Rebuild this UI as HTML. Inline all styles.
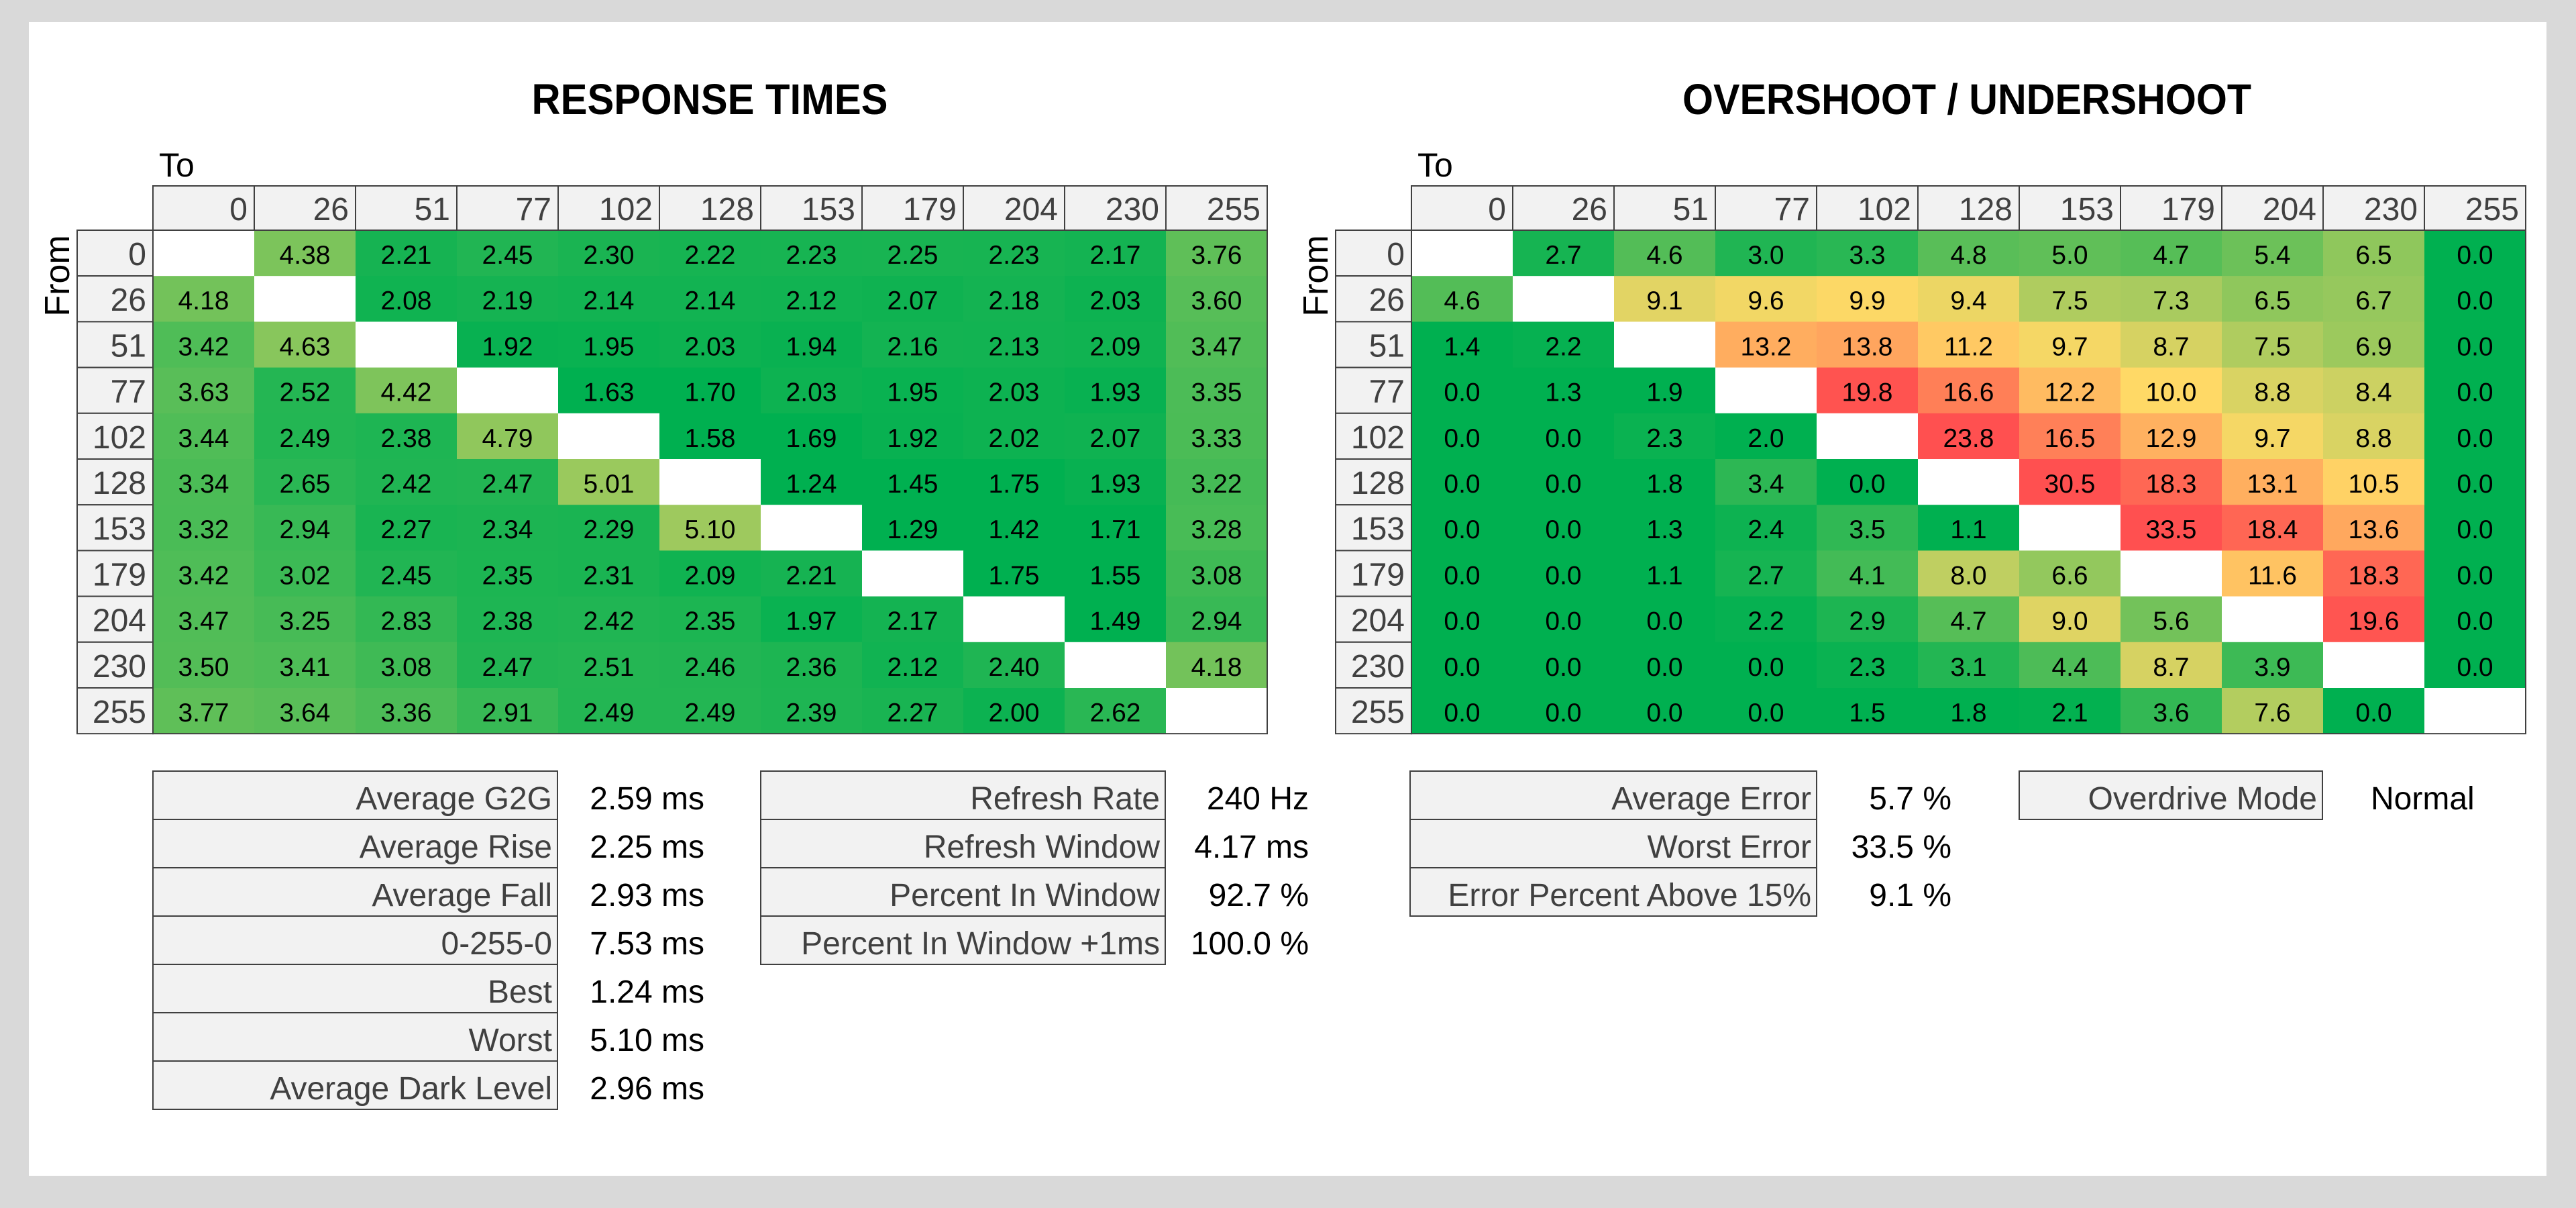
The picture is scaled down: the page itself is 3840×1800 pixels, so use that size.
<!DOCTYPE html>
<html><head><meta charset="utf-8"><style>
html,body{margin:0;padding:0;background:#d9d9d9;}
svg{display:block;font-family:"Liberation Sans",sans-serif;}
</style></head><body>
<svg id="chart" width="3840" height="1800" viewBox="0 0 3840 1800" xmlns="http://www.w3.org/2000/svg">
<rect x="0" y="0" width="3840" height="1800" fill="#d9d9d9"/>
<rect x="43" y="33" width="3753" height="1719" fill="#ffffff"/>
<text x="1058" y="170" text-anchor="middle" font-size="64" font-weight="bold" textLength="531" lengthAdjust="spacingAndGlyphs">RESPONSE TIMES</text>
<text x="2932" y="170" text-anchor="middle" font-size="64" font-weight="bold" textLength="848" lengthAdjust="spacingAndGlyphs">OVERSHOOT / UNDERSHOOT</text>
<g id="left"></g><g id="right"></g><g id="stats"></g>
</svg>
<script>
const levels = [0,26,51,77,102,128,153,179,204,230,255];
const rtRows = [
[null,4.38,2.21,2.45,2.30,2.22,2.23,2.25,2.23,2.17,3.76],
[4.18,null,2.08,2.19,2.14,2.14,2.12,2.07,2.18,2.03,3.60],
[3.42,4.63,null,1.92,1.95,2.03,1.94,2.16,2.13,2.09,3.47],
[3.63,2.52,4.42,null,1.63,1.70,2.03,1.95,2.03,1.93,3.35],
[3.44,2.49,2.38,4.79,null,1.58,1.69,1.92,2.02,2.07,3.33],
[3.34,2.65,2.42,2.47,5.01,null,1.24,1.45,1.75,1.93,3.22],
[3.32,2.94,2.27,2.34,2.29,5.10,null,1.29,1.42,1.71,3.28],
[3.42,3.02,2.45,2.35,2.31,2.09,2.21,null,1.75,1.55,3.08],
[3.47,3.25,2.83,2.38,2.42,2.35,1.97,2.17,null,1.49,2.94],
[3.50,3.41,3.08,2.47,2.51,2.46,2.36,2.12,2.40,null,4.18],
[3.77,3.64,3.36,2.91,2.49,2.49,2.39,2.27,2.00,2.62,null]];
const osRows = [
[null,2.7,4.6,3.0,3.3,4.8,5.0,4.7,5.4,6.5,0.0],
[4.6,null,9.1,9.6,9.9,9.4,7.5,7.3,6.5,6.7,0.0],
[1.4,2.2,null,13.2,13.8,11.2,9.7,8.7,7.5,6.9,0.0],
[0.0,1.3,1.9,null,19.8,16.6,12.2,10.0,8.8,8.4,0.0],
[0.0,0.0,2.3,2.0,null,23.8,16.5,12.9,9.7,8.8,0.0],
[0.0,0.0,1.8,3.4,0.0,null,30.5,18.3,13.1,10.5,0.0],
[0.0,0.0,1.3,2.4,3.5,1.1,null,33.5,18.4,13.6,0.0],
[0.0,0.0,1.1,2.7,4.1,8.0,6.6,null,11.6,18.3,0.0],
[0.0,0.0,0.0,2.2,2.9,4.7,9.0,5.6,null,19.6,0.0],
[0.0,0.0,0.0,0.0,2.3,3.1,4.4,8.7,3.9,null,0.0],
[0.0,0.0,0.0,0.0,1.5,1.8,2.1,3.6,7.6,0.0,null]];
const rtLabels = ["Average G2G","Average Rise","Average Fall","0-255-0","Best","Worst","Average Dark Level"];
const rtValues = ["2.59 ms","2.25 ms","2.93 ms","7.53 ms","1.24 ms","5.10 ms","2.96 ms"];
const rrLabels = ["Refresh Rate","Refresh Window","Percent In Window","Percent In Window +1ms"];
const rrValues = ["240 Hz","4.17 ms","92.7 %","100.0 %"];
const errLabels = ["Average Error","Worst Error","Error Percent Above 15%"];
const errValues = ["5.7 %","33.5 %","9.1 %"];
const odLabels = ["Overdrive Mode"];
const odValues = ["Normal"];

const NS="http://www.w3.org/2000/svg";
function mk(parent,tag,attrs,txt){const e=document.createElementNS(NS,tag);for(const k in attrs)e.setAttribute(k,attrs[k]);if(txt!==undefined)e.textContent=txt;parent.appendChild(e);return e;}
const G=[0,176,80],Y=[255,217,102],R=[255,80,80];
function lerp(a,b,t){return a.map((v,i)=>Math.round(v+(b[i]-v)*t));}
function rtColor(v){let t=Math.max(0,Math.min(1,(v-1.75)/5.4));return 'rgb('+lerp(G,Y,t).join(',')+')';}
function osColor(v){if(v<=10){let t=Math.max(0,(v-2)/8);return 'rgb('+lerp(G,Y,t).join(',')+')';}let t=Math.min(1,(v-10)/10);return 'rgb('+lerp(Y,R,t).join(',')+')';}

const COLW=151, HDR_TOP=277, HDR_H=66, ROW_H=68.2, LBL_W=113;
function grid(gid, x0, rows, colorFn, fmt, fromX, name){
  const g=document.getElementById(gid);
  const xs=i=>x0+i*COLW, ys=j=>HDR_TOP+HDR_H+j*ROW_H;
  const t=mk(g,'text',{x:x0+9,y:263,'font-size':50,fill:'#000'},'To');
  
  
  const f=mk(g,'text',{x:0,y:0,'font-size':52,fill:'#000',transform:'translate('+(fromX)+',411) rotate(-90)','text-anchor':'middle'},'From');
  
  
  levels.forEach((lv,i)=>{
    const r=mk(g,'rect',{x:xs(i),y:HDR_TOP,width:COLW,height:HDR_H,fill:'#f2f2f2',stroke:'#404040','stroke-width':2});
    
    
    const tx=mk(g,'text',{x:xs(i)+COLW-10,y:HDR_TOP+51,'font-size':48,fill:'#404040','text-anchor':'end'},String(lv));
    
    
    const rr=mk(g,'rect',{x:x0-LBL_W,y:ys(i),width:LBL_W,height:ROW_H,fill:'#f2f2f2',stroke:'#404040','stroke-width':2});
    
    
    const rt=mk(g,'text',{x:x0-10,y:ys(i)+52,'font-size':48,fill:'#404040','text-anchor':'end'},String(lv));
    
    
  });
  rows.forEach((row,j)=>row.forEach((v,i)=>{
    const c=mk(g,'rect',{x:xs(i),y:ys(j),width:COLW+0.5,height:ROW_H+0.5,fill:v===null?'#ffffff':colorFn(v)});
    
    
    if(v!==null){
      const ct=mk(g,'text',{x:xs(i)+COLW/2,y:ys(j)+50,'font-size':39,fill:'#000','text-anchor':'middle'},fmt(v));
      
      
    }
  }));
  const b=mk(g,'rect',{x:x0,y:HDR_TOP+HDR_H,width:COLW*11,height:ROW_H*11,fill:'none',stroke:'#404040','stroke-width':2});
  
  
}
grid('left',228,rtRows,rtColor,v=>v.toFixed(2),103,'response');
grid('right',2104,osRows,osColor,v=>v.toFixed(1),1979,'overshoot');

function stats(x0,w,valRight,valLeft,labels,values,name){
  const g=document.getElementById('stats');
  labels.forEach((l,i)=>{
    const y=1149+i*72;
    const r=mk(g,'rect',{x:x0,y:y,width:w,height:72,fill:'#f2f2f2',stroke:'#404040','stroke-width':2});
    
    
    const t=mk(g,'text',{x:x0+w-8,y:y+57,'font-size':48,fill:'#404040','text-anchor':'end'},l);
    
    
    const v=mk(g,'text',valLeft?{x:valLeft,y:y+57,'font-size':48,fill:'#000'}:{x:valRight,y:y+57,'font-size':48,fill:'#000','text-anchor':'end'},values[i]);
    
    
  });
}
stats(228,603,1050,null,rtLabels,rtValues,'rt-stat');
stats(1134,603,1951,null,rrLabels,rrValues,'refresh-stat');
stats(2102,606,2909,null,errLabels,errValues,'error-stat');
stats(3010,452,null,3534,odLabels,odValues,'overdrive-stat');
</script>
</body></html>
